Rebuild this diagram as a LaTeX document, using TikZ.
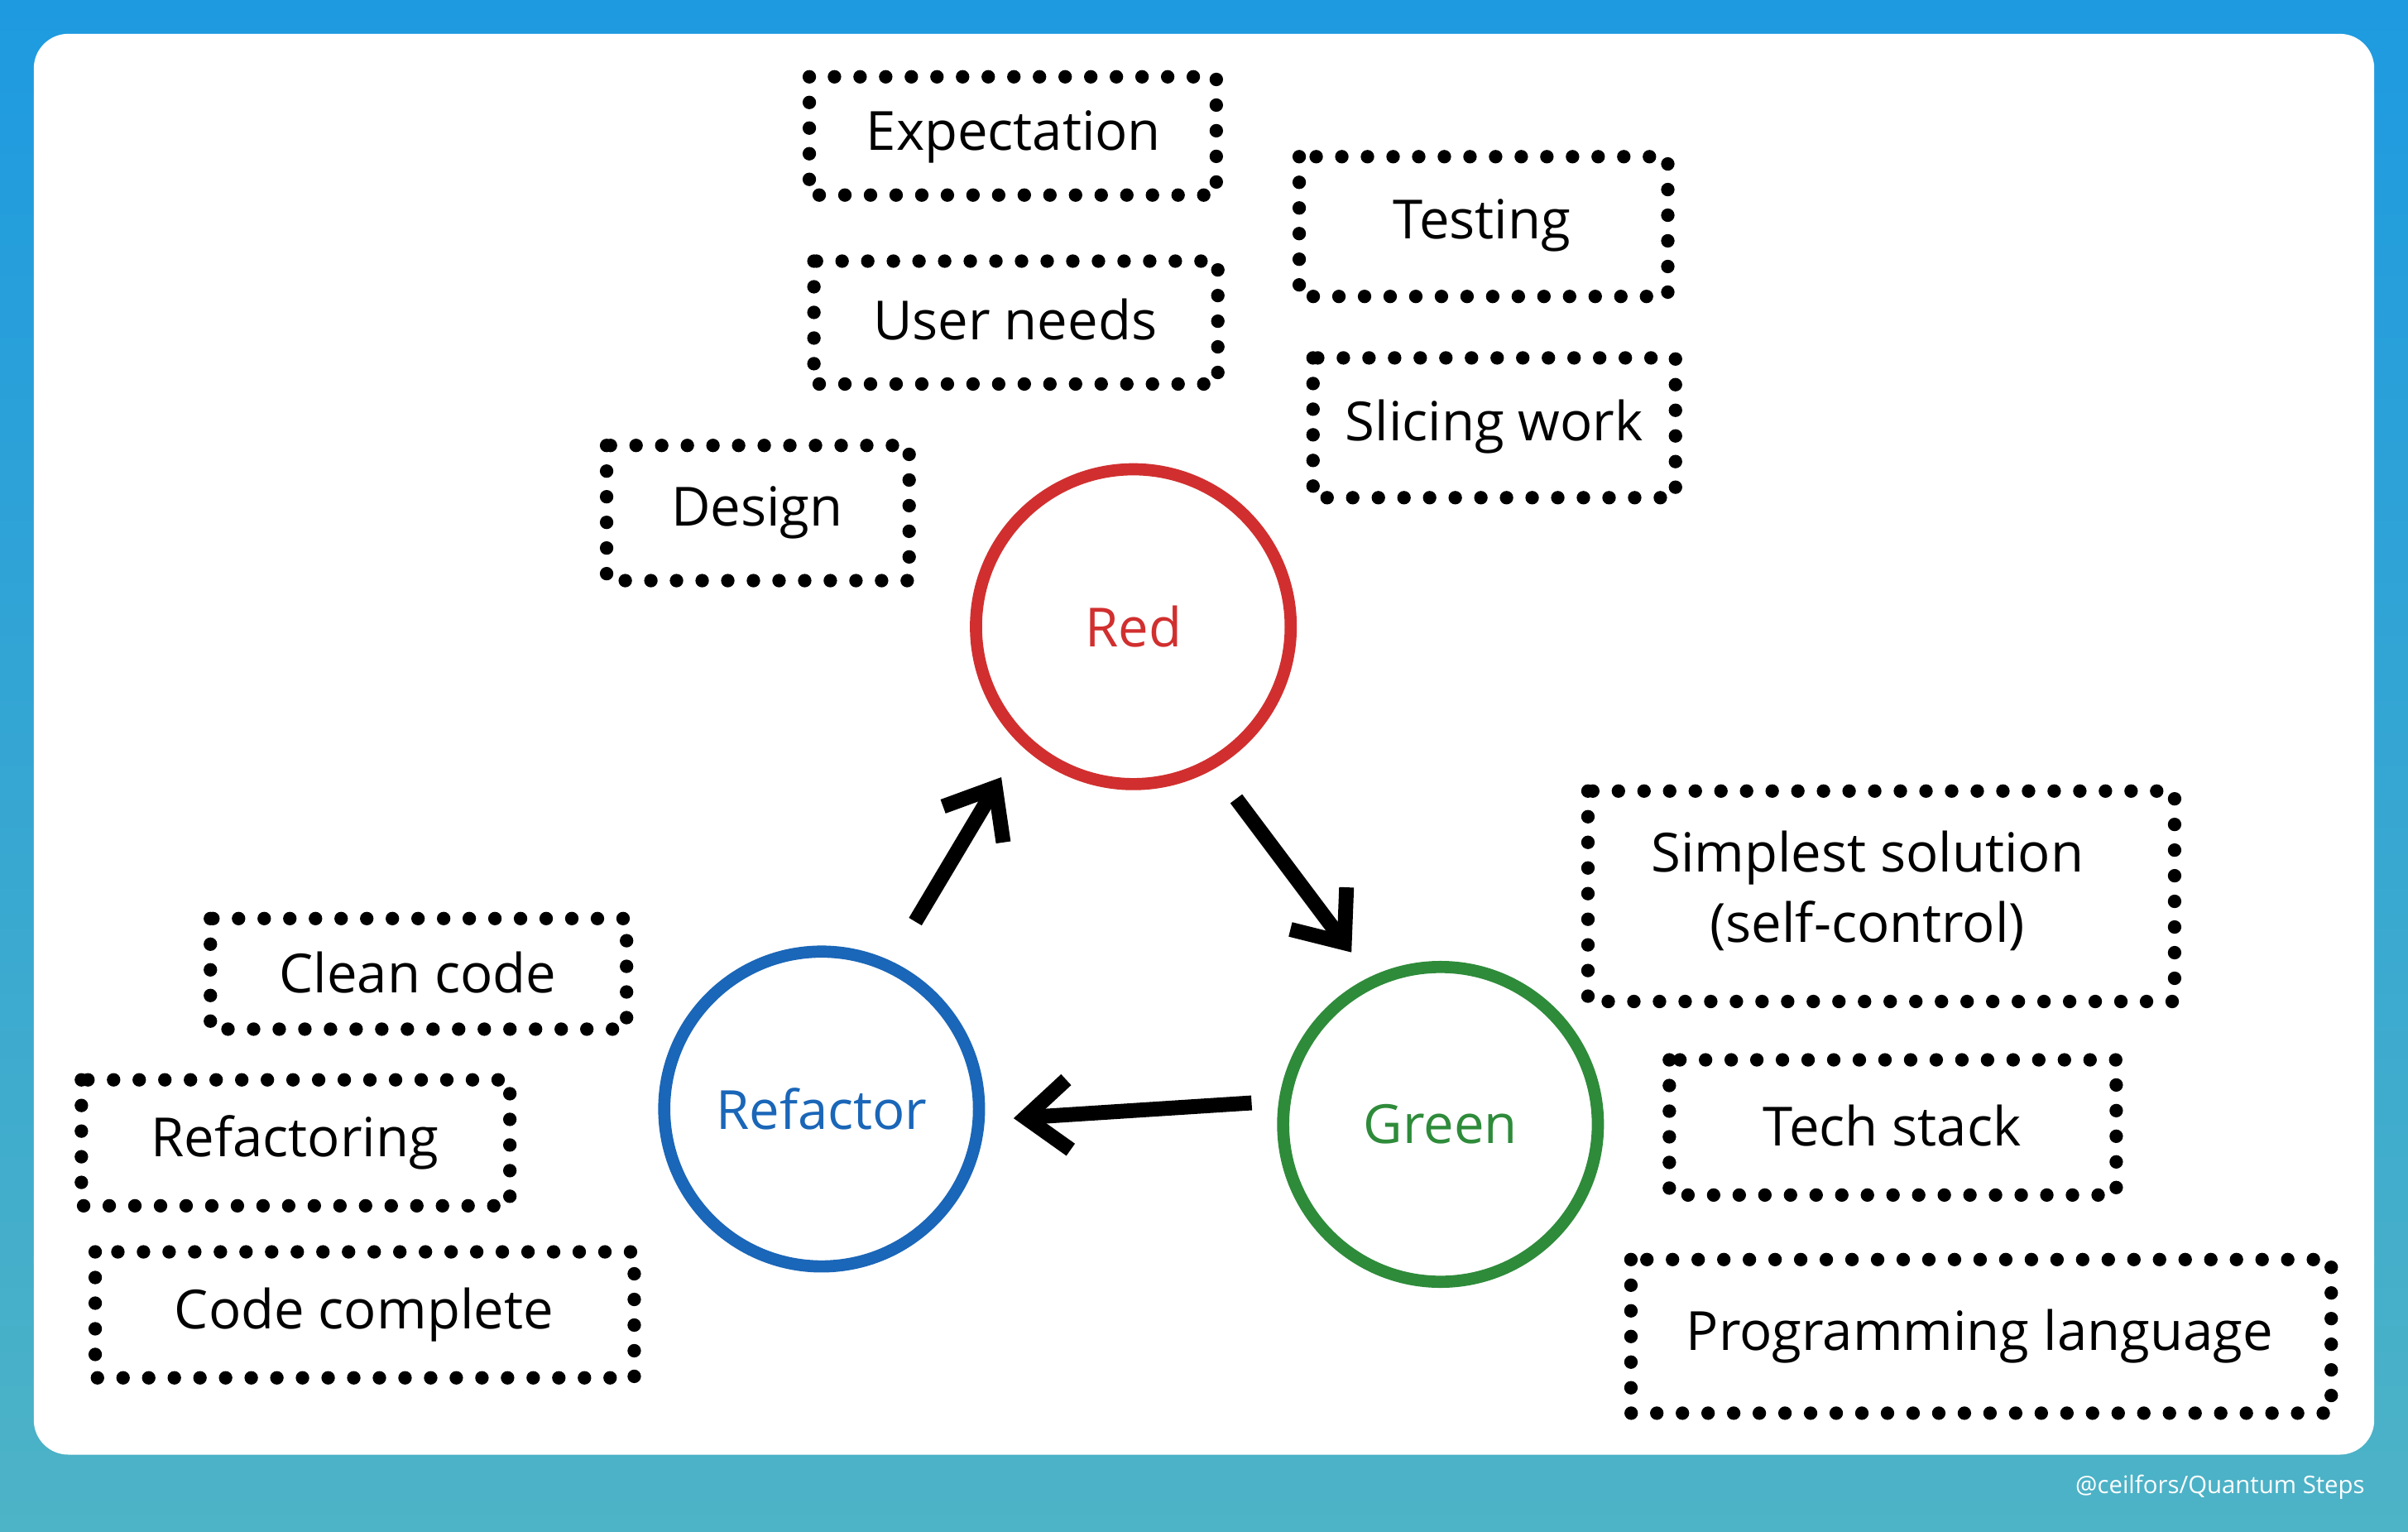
\documentclass[tikz,border=0pt]{standalone}
\usepackage{fontspec}
\setmainfont{Open Sans}
\usetikzlibrary{arrows.meta}
\begin{document}
\begin{tikzpicture}[x=0.02cm,y=-0.02cm,
  box/.style={draw=black,line width=5pt,line cap=round,dash pattern=on 0pt off 9.5pt},
  lbl/.style={font=\fontsize{20}{26}\selectfont,align=center},
  ring/.style={circle,line width=4.5pt,inner sep=0pt,minimum size=4.1cm,font=\fontsize{20}{24}\selectfont},
  arr/.style={line width=5.5pt,-{Straight Barb[length=16pt,width=26pt,line width=5.5pt]}}]
\definecolor{bgtop}{HTML}{1E9AE0}\definecolor{bgbot}{HTML}{4DB3C6}
\definecolor{cred}{HTML}{D12F2F}\definecolor{cblue}{HTML}{1A66B8}\definecolor{cgreen}{HTML}{2E8B3A}
\shade[top color=bgtop,bottom color=bgbot] (0,0) rectangle (1568,997);
\useasboundingbox (0,0) rectangle (1568,997);
\fill[white,rounded corners=0.45cm] (22,22) rectangle (1546,947);
\node[white,anchor=east,font=\fontsize{9}{11}\selectfont] (wm) at (1546,968) {@ceilfors/Quantum Steps};
% boxes
\draw[box] (527,50) rectangle (792,127); \node[lbl] (e) at (660,89) {Expectation};
\draw[box] (530,170) rectangle (793,250); \node[lbl] (u) at (661,208) {User needs};
\draw[box] (846,102) rectangle (1086,193); \node[lbl] (t) at (965,147) {Testing};
\draw[box] (855,233) rectangle (1091,324); \node[lbl] (s) at (973,278) {Slicing work};
\draw[box] (395,290) rectangle (592,378); \node[lbl] (d) at (493,334) {Design};
\draw[box] (1034,515) rectangle (1416,652); \node[lbl] (ss) at (1216,580) {Simplest solution\\(self-control)};
\draw[box] (1087,690) rectangle (1378,778); \node[lbl] (ts) at (1232,733) {Tech stack};
\draw[box] (1062,820) rectangle (1518,920); \node[lbl] (pl) at (1289,870) {Programming language};
\draw[box] (137,598) rectangle (408,670); \node[lbl] (cc) at (272,633) {Clean code};
\draw[box] (53,703) rectangle (332,785); \node[lbl] (rf) at (192,744) {Refactoring};
\draw[box] (62,815) rectangle (413,897); \node[lbl] (cp) at (237,856) {Code complete};
% circles
\node[ring,draw=cred,text=cred] (R) at (738,408) {Red};
\node[ring,draw=cblue,text=cblue] (F) at (535,722) {Refactor};
\node[ring,draw=cgreen,text=cgreen] (G) at (938,732) {Green};
\coordinate (a1) at (596,600); \coordinate (a2) at (652,506);
\coordinate (b1) at (805,520); \coordinate (b2) at (880,620);
\coordinate (c1) at (815,718); \coordinate (c2) at (660,728);
\draw[arr] (a1) -- (a2);
\draw[arr] (b1) -- (b2);
\draw[arr] (c1) -- (c2);
\end{tikzpicture}
\end{document}
